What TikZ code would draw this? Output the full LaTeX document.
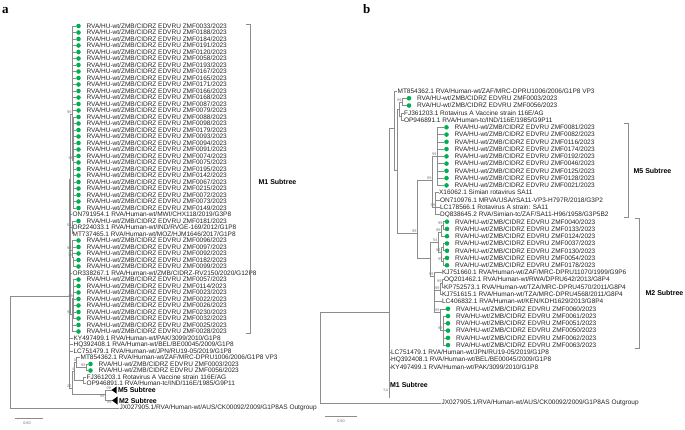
\documentclass[tikz,border=0pt]{standalone}
\usepackage{fontspec}
\setmainfont{Liberation Sans}
\newfontfamily\serifbold{Liberation Serif}
\usetikzlibrary{positioning}
\definecolor{dotgreen}{RGB}{0,176,80}
\definecolor{treegray}{RGB}{140,140,140}
\definecolor{inkgray}{RGB}{35,35,35}
\tikzset{
  br/.style={draw=treegray, line width=0.55pt},
  lbl/.style={font=\fontsize{6.5}{6.5}\selectfont, text=inkgray, inner sep=0.4pt, anchor=west},
  zdot/.style={circle, fill=dotgreen, inner sep=0pt, minimum size=4.6pt},
  boot/.style={font=\fontsize{3.8}{3.8}\selectfont, text=black!55, inner sep=0.4pt, anchor=south east},
  subt/.style={font=\fontsize{7}{7}\selectfont\bfseries, text=black, inner sep=0.4pt, anchor=west},
  clade/.style={draw=treegray, line width=0.55pt},
  panel/.style={font=\serifbold\fontsize{13}{13}\selectfont\bfseries, inner sep=0pt, anchor=base west},
  scalelbl/.style={font=\fontsize{3.8}{3.8}\selectfont, text=black!60, inner sep=0.4pt, anchor=north}
}
\newcommand{\zmb}[1]{RVA/HU-wt/ZMB/CIDRZ EDVRU ZMF#1/2023}

\begin{document}
\begin{tikzpicture}[x=1pt, y=-1pt]
\useasboundingbox (0,0) rectangle (685,429);
\node[panel] (pa) at (2,13) {a};
\node[panel] (pb) at (363,13) {b};

% ---------------- panel a ----------------
\foreach \id/\r in {0033/1,0188/2,0184/3,0191/4,0120/5,0058/6,0193/7,0167/8,0165/9,0171/10,0166/11,0168/12,0087/13,0079/14,0088/15,0098/16,0179/17,0093/18,0094/19,0091/20,0074/21,0075/22,0195/23,0142/24,0067/25,0215/26,0072/27,0073/28,0149/29,0181/31,0096/34,0097/35,0092/36,0182/37,0099/38,0057/40,0114/41,0023/42,0022/43,0026/44,0230/45,0032/46,0025/47,0028/48}{
  \node[zdot] (ad\r) at (78.5,{19.5+6.5*\r}) {};
  \node[lbl, right=5pt of ad\r] (a\r) {\zmb{\id}};
}
\node[lbl] (a30) at (72,{19.5+6.5*30}) {ON791954.1 RVA/Human-wt/MWI/CHX118/2019/G3P8};
\node[lbl] (a32) at (72,{19.5+6.5*32}) {OR224033.1 RVA/Human-wt/IND/RVGE-169/2012/G1P8};
\node[lbl] (a33) at (72,{19.5+6.5*33}) {MT737465.1 RVA/Human-wt/MOZ/HJM1646/2017/G1P8};
\node[lbl] (a39) at (72,{19.5+6.5*39}) {OR338267.1 RVA/Human-wt/ZMB/CIDRZ-RV2150/2020/G12P8};
\node[lbl] (a49) at (73,338) {KY497499.1 RVA/Human-wt/PAK/3099/2010/G1P8};
\node[lbl] (a50) at (73,344.5) {HQ392408.1 RVA/Human-wt/BEL/BE00045/2009/G1P8};
\node[lbl] (a51) at (73,351) {LC751479.1 RVA/Human-wt/JPN/RU19-05/2019/G1P8};
\node[lbl] (a52) at (80,357.5) {MT854362.1 RVA/Human-wt/ZAF/MRC-DPRU1006/2006/G1P8 VP3};
\node[zdot] (ad53) at (90.5,364) {};
\node[lbl, right=5pt of ad53] (a53) {\zmb{0003}};
\node[zdot] (ad54) at (90.5,370.5) {};
\node[lbl, right=5pt of ad54] (a54) {\zmb{0056}};
\node[lbl] (a55) at (86,377) {FJ361203.1 Rotavirus A Vaccine strain 116E/AG};
\node[lbl] (a56) at (86,383.5) {OP946891.1 RVA/Human-tc/IND/116E/1985/G9P11};
\coordinate (a57) at (111.5,390);
\coordinate (a58) at (112,400.5);
\fill (a57) -- ++(5,-3.5) -- ++(0,7) -- cycle;
\fill (a58) -- ++(5.5,-4) -- ++(0,8) -- cycle;
\node[subt] (aM5) at (117.5,390) {M5 Subtree};
\node[subt] (aM2) at (118.5,400.5) {M2 Subtree};
\node[lbl] (a59) at (119,408) {JX027905.1/RVA/Human-wt/AUS/CK00092/2009/G1P8AS Outgroup};

% internal nodes
\coordinate (as1) at (72,114);
\coordinate (as2) at (73.5,160);
\coordinate (as3) at (72,227.5);
\coordinate (as4) at (72,250);
\coordinate (as5) at (73.5,257);
\coordinate (as6) at (72,314);
\coordinate (as7) at (73.5,298);
\coordinate (am1) at (70.5,179);
\coordinate (aing) at (69,296);
\coordinate (al1) at (72,388);
\coordinate (al2) at (74.5,371);
\coordinate (al3) at (76.5,362);
\coordinate (azz) at (86,367);
\coordinate (afo) at (83,380);
\coordinate (amm) at (105,394);
\coordinate (art) at (10,352);

\foreach \r in {1,...,14} \draw[br] (as1) |- (ad\r.west);
\foreach \r in {15,...,29} \draw[br] (as2) |- (ad\r.west);
\draw[br] (as1) |- (as2);
\draw[br] (as3) |- (ad31.west);
\draw[br] (as3) |- (a32.west);
\draw[br] (as3) |- (a33.west);
\foreach \r in {34,35,36} \draw[br] (as4) |- (ad\r.west);
\draw[br] (as4) |- (as5);
\foreach \r in {37,38} \draw[br] (as5) |- (ad\r.west);
\foreach \r in {40,...,46} \draw[br] (as7) |- (ad\r.west);
\draw[br] (as6) |- (as7);
\draw[br] (as6) |- (ad47.west);
\draw[br] (as6) |- (ad48.west);
\foreach \c in {as1,as3,as4,as6} \draw[br] (am1) |- (\c);
\draw[br] (am1) |- (a30.west);
\draw[br] (am1) |- (a39.west);
\draw[br] (aing) |- (am1);
\foreach \c in {a49,a50,a51} \draw[br] (aing) |- (\c.west);
\draw[br] (aing) |- (al1);
\draw[br] (al1) |- (al2);
\draw[br] (al1) |- (amm);
\draw[br] (al2) |- (al3);
\draw[br] (al2) |- (afo);
\draw[br] (al3) |- (a52.west);
\draw[br] (al3) |- (azz);
\draw[br] (azz) |- (ad53.west);
\draw[br] (azz) |- (ad54.west);
\draw[br] (afo) |- (a55.west);
\draw[br] (afo) |- (a56.west);
\draw[br] (amm) |- (a57);
\draw[br] (amm) |- (a58);
\draw[br] (art) |- (aing);
\draw[br] (art) |- (a59.west);

% bootstrap values
\node[boot] (ab1) at (as1) {99};
\node[boot] (ab2) at (as2) {99};
\node[boot] (ab3) at (as3) {54};
\node[boot] (ab4) at (as4) {99};
\node[boot] (ab5) at (as5) {54};
\node[boot] (ab6) at (as7) {99};
\node[boot] (ab7) at (as6) {91};
\node[boot] (ab8) at (al3) {0};
\node[boot] (ab9) at (azz) {99};
\node[boot] (ab10) at (al2) {4};
\node[boot] (ab11) at (al1) {26};
\node[boot, anchor=north east] (ab12) at (amm) {99};
\node[boot] (ab13) at (a57) {99};
\node[boot, anchor=north east] (ab14) at (a58) {99};

% clade bracket and scale
\coordinate (abr0) at (250,24);
\coordinate (abr1) at (250,333);
\draw[clade] ([xshift=-4pt]abr0) -- (abr0) -- (abr1) -- ([xshift=-4pt]abr1);
\node[subt] (aM1) at (258,182) {M1 Subtree};
\coordinate (asb0) at (15,418);
\coordinate (asb1) at (43,418);
\draw[br] (asb0) -- (asb1);
\node[scalelbl] (asbl) at (27,421) {0.50};

% ---------------- panel b ----------------
\foreach \id/\r/\dx in {0003/2/409,0056/3/409,0081/6/446.5,0082/7/446.5,0116/8/446.5,0174/9/446.5,0192/10/446.5,0046/11/446.5,0125/12/446.5,0128/13/446.5,0021/14/446.5,0040/19/447,0133/20/447,0124/21/447,0037/22/447,0130/23/447,0054/24/447,0178/25/447,0060/31/448,0061/32/448,0051/33/448,0050/34/448,0062/35/448,0063/36/448}{
  \node[zdot] (bd\r) at (\dx,{83.74+7.26*\r}) {};
  \node[lbl, right=5pt of bd\r] (b\r) {\zmb{\id}};
}
\node[lbl] (b1) at (397,91) {MT854362.1 RVA/Human-wt/ZAF/MRC-DPRU1006/2006/G1P8 VP3};
\node[lbl] (b4) at (403.5,112.78) {FJ361203.1 Rotavirus A Vaccine strain 116E/AG};
\node[lbl] (b5) at (403.5,120.04) {OP946891.1 RVA/Human-tc/IND/116E/1985/G9P11};
\node[lbl] (b15) at (438.5,192.64) {X16062.1 Simian rotavirus SA11};
\node[lbl] (b16) at (439.5,199.9) {ON710976.1 MRVA/USA/rSA11-VP3-H797R/2018/G3P2};
\node[lbl] (b17) at (439.5,207.16) {LC178566.1 Rotavirus A strain: SA11};
\node[lbl] (b18) at (439.5,214.42) {DQ838645.2 RVA/Simian-tc/ZAF/SA11-H96/1958/G3P5B2};
\node[lbl] (b26) at (441.5,272.5) {KJ751660.1 RVA/Human-wt/ZAF/MRC-DPRU11070/1999/G9P6};
\node[lbl] (b27) at (443.5,279.76) {OQ201462.1 RVA/Human-wt/RWA/DPRU642/2013/G8P4};
\node[lbl] (b28) at (443.5,287.02) {KP752573.1 RVA/Human-wt/TZA/MRC-DPRU4570/2011/G8P4};
\node[lbl] (b29) at (441.5,294.28) {KJ751615.1 RVA/Human-wt/TZA/MRC-DPRU4568/2011/G8P4};
\node[lbl] (b30) at (441.5,301.54) {LC406832.1 RVA/Human-wt/KEN/KDH1629/2013/G8P4};
\node[lbl] (b37) at (390.5,352.36) {LC751479.1 RVA/Human-wt/JPN/RU19-05/2019/G1P8};
\node[lbl] (b38) at (390.5,359.62) {HQ392408.1 RVA/Human-wt/BEL/BE00045/2009/G1P8};
\node[lbl] (b39) at (390.5,366.88) {KY497499.1 RVA/Human-wt/PAK/3099/2010/G1P8};
\node[subt] (bM1) at (389.5,385) {M1 Subtree};
\node[lbl] (b41) at (441,403) {JX027905.1/RVA/Human-wt/AUS/CK00092/2009/G1P8AS Outgroup};

% internal nodes
\coordinate (bz2) at (402,101.9);
\coordinate (bfo) at (401,116.4);
\coordinate (be) at (399,109);
\coordinate (bdn) at (397,170);
\coordinate (ba) at (394,128);
\coordinate (bc) at (417,233);
\coordinate (bm5) at (432,180);
\coordinate (bm5z) at (437,156.3);
\coordinate (bsa) at (435.5,207);
\coordinate (bm2) at (430,258);
\coordinate (bm2a) at (438,242);
\coordinate (bn1) at (443,225.3);
\coordinate (bn2) at (441,232);
\coordinate (bn3) at (443,247.1);
\coordinate (bn4) at (443,261.6);
\coordinate (bn5) at (441,252);
\coordinate (bm2r) at (434,276);
\coordinate (bq1) at (442,283.4);
\coordinate (bq2) at (440,290);
\coordinate (bk2) at (440,312);
\coordinate (bk1) at (443,330.6);
\coordinate (bsb) at (389,312);
\coordinate (bm1) at (389,398);
\coordinate (brt) at (320,358);

\draw[br] (bz2) |- (bd2.west);
\draw[br] (bz2) |- (bd3.west);
\draw[br] (bfo) |- (b4.west);
\draw[br] (bfo) |- (b5.west);
\draw[br] (be) |- (bz2);
\draw[br] (be) |- (bfo);
\draw[br] (bdn) |- (be);
\draw[br] (bdn) |- (bc);
\draw[br] (ba) |- (b1.west);
\draw[br] (ba) |- (bdn);
\draw[br] (bc) |- (bm5);
\draw[br] (bc) |- (bm2);
\draw[br] (bm5) |- (bm5z);
\draw[br] (bm5) |- (bsa);
\foreach \r in {6,...,14} \draw[br] (bm5z) |- (bd\r.west);
\foreach \r in {15,...,18} \draw[br] (bsa) |- (b\r.west);
\draw[br] (bm2) |- (bm2a);
\draw[br] (bm2) |- (bm2r);
\draw[br] (bm2a) |- (bn2);
\draw[br] (bm2a) |- (bn5);
\draw[br] (bn2) |- (bn1);
\draw[br] (bn2) |- (bd21.west);
\draw[br] (bn1) |- (bd19.west);
\draw[br] (bn1) |- (bd20.west);
\draw[br] (bn5) |- (bn3);
\draw[br] (bn5) |- (bn4);
\draw[br] (bn3) |- (bd22.west);
\draw[br] (bn3) |- (bd23.west);
\draw[br] (bn4) |- (bd24.west);
\draw[br] (bn4) |- (bd25.west);
\draw[br] (bm2r) |- (b26.west);
\draw[br] (bm2r) |- (bq2);
\draw[br] (bm2r) |- (b30.west);
\draw[br] (bm2r) |- (bk2);
\draw[br] (bq2) |- (bq1);
\draw[br] (bq2) |- (b29.west);
\draw[br] (bq1) |- (b27.west);
\draw[br] (bq1) |- (b28.west);
\draw[br] (bk2) |- (bd31.west);
\draw[br] (bk2) |- (bk1);
\foreach \r in {32,...,36} \draw[br] (bk1) |- (bd\r.west);
\draw[br] (bsb) |- (ba);
\foreach \c in {b37,b38,b39} \draw[br] (bsb) |- (\c.west);
\draw[br] (bsb) -- (bm1);
\draw[br] (brt) |- (bsb);
\draw[br] (brt) |- (b41.west);

% bootstrap values
\node[boot] (bb1) at (bz2) {99};
\node[boot] (bb2) at (bc) {99};
\node[boot] (bb3) at (bm5) {99};
\node[boot] (bb4) at (bm5z) {99};
\node[boot] (bb5) at (bsa) {99};
\node[boot] (bb6) at (bn1) {99};
\node[boot] (bb7) at (bn2) {99};
\node[boot] (bb8) at (bm2a) {54};
\node[boot] (bb9) at (bn5) {99};
\node[boot] (bb10) at (bn4) {99};
\node[boot] (bb11) at (bm2r) {99};
\node[boot] (bb12) at (bq1) {99};
\node[boot] (bb13) at (bq2) {99};
\node[boot] (bb14) at (bk2) {99};
\node[boot] (bb15) at (bk1) {99};
\node[boot, anchor=east] (bb16) at (388.5,390) {54};

% clade brackets and scale
\coordinate (bbr0) at (628,123);
\coordinate (bbr1) at (628,217);
\draw[clade] ([xshift=-4pt]bbr0) -- (bbr0) -- (bbr1) -- ([xshift=-4pt]bbr1);
\node[subt] (bM5) at (633,171) {M5 Subtree};
\coordinate (bbr2) at (639,218);
\coordinate (bbr3) at (639,348);
\draw[clade] ([xshift=-4pt]bbr2) -- (bbr2) -- (bbr3) -- ([xshift=-4pt]bbr3);
\node[subt] (bM2) at (645,293) {M2 Subtree};
\coordinate (bsb0) at (325,416);
\coordinate (bsb1) at (357,416);
\draw[br] (bsb0) -- (bsb1);
\node[scalelbl] (bsbl) at (341,419) {0.50};
\end{tikzpicture}
\end{document}
